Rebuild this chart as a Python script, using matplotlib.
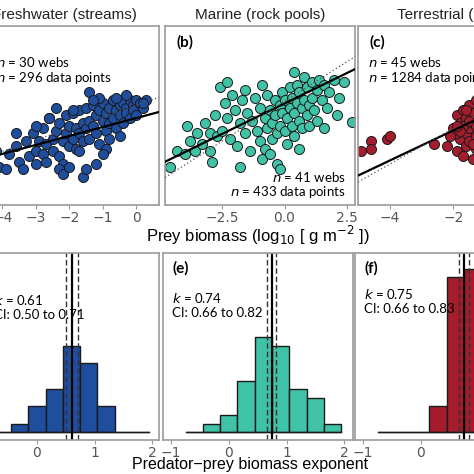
import matplotlib
matplotlib.use("Agg")
import matplotlib.pyplot as plt

# ── data ─────────────────────────────────────────────────────────
titles = ["Freshwater (streams)", "Marine (rock pools)", "Terrestrial (soils)"]
colors = ["#1f4e9e", "#3fc2a6", "#a51d2d"]

fresh_pts = [(-4.4, -3.3), (-4.3, -3.9), (-4.2, -2.9), (-4.1, -3.5), (-3.9, -3.6), (-3.8, -3.0),
             (-3.6, -2.7), (-3.5, -3.3), (-3.4, -3.6), (-3.3, -2.5), (-3.2, -3.1), (-3.1, -2.2),
             (-3.0, -2.9), (-3.0, -3.4), (-2.9, -2.5), (-2.8, -2.0), (-2.8, -3.0), (-2.7, -2.6),
             (-2.6, -1.6), (-2.5, -2.4), (-2.5, -2.9), (-2.4, -2.1), (-2.3, -1.8), (-2.3, -3.1),
             (-2.2, -2.5), (-2.2, -3.4), (-2.1, -1.5), (-2.1, -2.2), (-2.0, -2.7), (-2.0, -1.9),
             (-1.9, -2.4), (-1.9, -1.4), (-1.8, -2.0), (-1.8, -2.8), (-1.7, -1.3), (-1.7, -2.2),
             (-1.6, -1.8), (-1.6, -2.5), (-1.5, -1.2), (-1.5, -2.0), (-1.4, -1.7), (-1.4, -2.4),
             (-1.3, -1.1), (-1.3, -1.9), (-1.2, -1.5), (-1.2, -2.2), (-1.1, -1.3), (-1.1, -2.6),
             (-1.0, -1.0), (-1.0, -1.7), (-0.9, -1.4), (-0.9, -2.1), (-0.8, -1.2), (-0.8, -1.8),
             (-0.7, -0.9), (-0.7, -1.6), (-0.6, -1.3), (-0.6, -2.0), (-0.5, -1.1), (-0.5, -1.5),
             (-0.4, -1.0), (-0.4, -1.8), (-0.3, -1.2), (-0.3, -1.4), (-0.2, -0.9), (-0.2, -1.6),
             (-0.1, -1.1), (-0.1, -1.3), (0.0, -0.9), (0.0, -1.5), (0.1, -1.0), (0.2, -1.2),
             (0.3, -0.9), (-2.3, -3.6), (-2.2, -3.8), (-2.0, -3.5), (-1.6, -3.9), (-1.5, -3.6),
             (-1.2, -3.4), (-3.0, -1.9), (-2.6, -1.6), (-1.9, -1.3), (-0.9, -2.8), (-0.6, -0.8),
             (-0.3, -0.7), (0.2, -1.0), (-1.4, -0.6), (-2.4, -1.2), (-1.1, -0.8), (-0.8, -2.4),
             (-1.7, -2.9), (-2.7, -3.3), (-3.6, -2.2), (-0.5, -2.3), (-1.0, -3.0), (-1.3, -0.9)]

marine_pts = [(-4.6, -3.5), (-4.3, -2.9), (-4.0, -3.0), (-3.8, -2.5), (-3.6, -2.9), (-3.5, -2.2),
              (-3.3, -2.6), (-3.2, -1.8), (-3.0, -2.2), (-3.0, -2.9), (-2.8, -1.5), (-2.7, -2.3),
              (-2.6, -0.4), (-2.5, -2.1), (-2.4, -1.0), (-2.3, -1.6), (-2.2, -2.4), (-2.1, -0.7),
              (-2.0, -1.3), (-1.9, -2.7), (-1.8, -1.8), (-1.7, -0.9), (-1.6, -2.2), (-1.5, -1.4),
              (-1.4, -2.9), (-1.3, -1.7), (-1.2, -0.8), (-1.1, -2.1), (-1.0, -1.2), (-1.0, -2.5),
              (-0.9, -3.2), (-0.8, -1.6), (-0.8, -2.8), (-0.7, -0.7), (-0.7, -2.0), (-0.6, -1.3),
              (-0.6, -3.0), (-0.5, -1.8), (-0.5, -2.4), (-0.4, -0.9), (-0.4, -1.5), (-0.3, -2.2),
              (-0.3, -3.4), (-0.2, -1.1), (-0.2, -1.9), (-0.1, -0.6), (-0.1, -1.4), (0.0, -2.1),
              (0.0, -0.9), (0.1, -1.6), (0.1, -2.6), (0.2, -0.4), (0.2, -1.2), (0.3, -1.9),
              (0.3, -0.8), (0.4, -1.4), (0.4, -2.3), (0.5, -0.3), (0.5, -1.0), (0.6, -1.7),
              (0.6, -0.6), (0.7, -1.2), (0.7, -2.0), (0.8, 0.0), (0.8, -0.9), (0.9, -1.5),
              (0.9, -0.4), (1.0, -1.1), (1.0, -1.9), (1.1, -0.2), (1.1, -0.8), (1.2, -1.3),
              (1.3, -0.5), (1.3, -1.7), (1.4, -0.1), (1.5, -0.9), (1.6, -0.3), (1.7, -1.2),
              (1.8, -0.6), (2.0, -0.1), (2.1, -1.5), (2.2, -0.8), (2.4, -0.2), (2.7, -1.75),
              (-1.6, -0.5), (-0.9, -0.3), (0.4, 0.2), (-2.9, -3.3), (-1.8, -3.5), (-0.2, -3.6),
              (0.6, -2.8), (1.6, -2.0), (-3.9, -1.9), (-2.3, -0.2)]

terr_pts = [(-4.9, -2.9), (-4.6, -2.5), (-4.6, -2.8), (-4.1, -2.4), (-4.0, -2.3), (-2.6, -2.6),
            (-2.2, -2.7), (-2.0, -2.0), (-1.9, -2.9), (-1.9, -1.5), (-1.8, -2.4), (-1.8, -1.8),
            (-1.7, -3.1), (-1.7, -1.3), (-1.6, -2.2), (-1.6, -2.7), (-1.6, -1.6), (-1.5, -1.1),
            (-1.5, -2.0), (-1.5, -2.5), (-1.4, -1.4), (-1.4, -3.2), (-1.4, -1.8), (-1.3, -2.3),
            (-1.3, -0.9), (-1.3, -2.8), (-1.2, -1.6), (-1.2, -2.1), (-1.2, -1.2), (-1.1, -2.6),
            (-1.1, -1.9), (-1.1, -0.8), (-1.0, -1.5), (-1.0, -2.3), (-1.0, -3.3), (-0.9, -1.1),
            (-0.9, -1.8), (-0.9, -2.7), (-0.8, -1.4), (-0.8, -2.1), (-0.8, -0.7), (-0.7, -1.7),
            (-0.7, -2.5), (-0.7, -1.0), (-0.6, -1.3), (-0.6, -2.0), (-0.6, -2.9), (-0.5, -0.9),
            (-0.5, -1.6), (-0.5, -2.3), (-0.4, -1.2), (-0.4, -1.9), (-0.3, -0.8), (-0.3, -2.6),
            (-0.3, -1.5), (-0.2, -1.1), (-0.2, -2.1), (-0.1, -1.4), (-0.1, -0.7), (0.0, -1.8),
            (-1.9, -2.2), (-1.7, -1.9), (-1.5, -1.7), (-1.3, -1.9), (-1.1, -1.4), (-0.9, -2.3),
            (-0.7, -1.3), (-0.5, -2.0), (-0.3, -1.1), (-1.4, -2.6), (-1.2, -2.9), (-0.8, -3.0),
            (-2.1, -2.3), (-1.8, -2.1), (-1.6, -1.3), (-1.2, -2.5), (-1.0, -1.9), (-0.6, -1.6),
            (-0.4, -2.2), (-0.2, -1.7), (-1.9, -1.9), (-0.9, -1.5)]

scatter_pts = [fresh_pts, marine_pts, terr_pts]
fit_lines = [(-1.6, 0.35), (-1.03, 0.475), (-0.9, 0.59)]      # (intercept, slope)
dot_lines = [(-1.1, 0.45), (-0.95, 0.62), (-0.6, 0.70)]
scatter_xlim = [(-5.0, 0.68), (-4.8, 2.83), (-5.0, 0.97)]
scatter_xticks = [[-4, -3, -2, -1, 0], [-2.5, 0.0, 2.5], [-4, -2, 0]]
scatter_labels = [["−4", "−3", "−2", "−1", "0"], ["−2.5", "0.0", "2.5"], ["−4", "−2", "0"]]
n_webs = [30, 41, 45]
n_points = [296, 433, 1284]

bin_edges = [-0.75, -0.45, -0.15, 0.15, 0.45, 0.75, 1.05, 1.35, 1.65, 1.95]
fresh_counts = [0, 1, 3, 5, 10, 8, 3, 0, 0]
marine_counts = [0, 1, 2, 6, 11, 10, 5, 4, 1]
terr_counts = [0, 0, 0, 3, 18, 19, 10, 4, 1]
hist_counts = [fresh_counts, marine_counts, terr_counts]
k_est = [0.61, 0.74, 0.75]
ci_lo = [0.50, 0.66, 0.66]
ci_hi = [0.71, 0.82, 0.83]
hist_xlim = [(-1.18, 2.12), (-1.14, 2.15), (-1.14, 2.15)]

# ── layout (pixel-based, panels run off the canvas like the cropped source) ──
W = 474.0
top_left = [-31, 165, 358]
hist_left = [-31, 163, 355]
pw = 190

fig = plt.figure(figsize=(4.74, 4.74), dpi=100)
grey = "#9a9a9a"
tick_col = "#555555"


def style(ax):
    for s in ax.spines.values():
        s.set_color(grey)
        s.set_linewidth(1.2)
    ax.tick_params(axis="x", colors=grey, labelcolor=tick_col, labelsize=10,
                   length=3, pad=1)
    ax.set_yticks([])


for i in range(3):
    ax = fig.add_axes([top_left[i] / W, 1 - 205 / W, pw / W, 179 / W])
    xs = [p[0] for p in scatter_pts[i]]
    ys = [p[1] for p in scatter_pts[i]]
    ax.scatter(xs, ys, s=52, color=colors[i], edgecolor="#1a1a1a", linewidth=0.7, zorder=2)
    x0, x1 = scatter_xlim[i]
    b0, b1 = fit_lines[i]
    ax.plot([x0, x1], [b0 + b1 * x0, b0 + b1 * x1], color="black", lw=1.6, zorder=3)
    d0, d1 = dot_lines[i]
    ax.plot([x0, x1], [d0 + d1 * x0, d0 + d1 * x1], color="#555555", lw=0.9, ls=(0, (1, 2)), zorder=3)
    ax.set_xlim(x0, x1)
    ax.set_ylim(-5, 2)
    ax.set_xticks(scatter_xticks[i])
    ax.set_xticklabels(scatter_labels[i])
    style(ax)
    ax.set_title(titles[i], fontsize=11, color="#222222", pad=5, family="Liberation Sans")
    ax.text(0.06, 0.91, "(" + "abc"[i] + ")", transform=ax.transAxes, fontsize=11,
            fontweight="bold", family="Lato", va="center")
    lines = [f"$n$ = {n_webs[i]} webs", f"$n$ = {n_points[i]} data points"]
    if i == 1:
        ax.text(0.95, 0.155, lines[0], transform=ax.transAxes, ha="right", va="center", fontsize=9.5, family="Lato")
        ax.text(0.95, 0.075, lines[1], transform=ax.transAxes, ha="right", va="center", fontsize=9.5, family="Lato")
    else:
        tx = 0.14 if i == 0 else 0.05
        ax.text(tx, 0.80, lines[0], transform=ax.transAxes, va="center", fontsize=9.5, family="Lato")
        ax.text(tx, 0.71, lines[1], transform=ax.transAxes, va="center", fontsize=9.5, family="Lato")

fig.text(258 / W, 1 - 235 / W, r"Prey biomass (log$_{10}$ [ g m$^{-2}$ ])", ha="center",
         va="center", fontsize=12, family="Liberation Sans")

for i in range(3):
    ax = fig.add_axes([hist_left[i] / W, 1 - 440 / W, pw / W, 187 / W])
    ax.hist(bin_edges[:-1], bins=bin_edges, weights=hist_counts[i], color=colors[i],
            edgecolor="#1a1a1a", linewidth=1.0)
    ax.plot([bin_edges[0], bin_edges[-1]], [0, 0], color="#1a1a1a", lw=1.0)
    ax.axvline(k_est[i], color="black", lw=1.6)
    ax.axvline(ci_lo[i], color="#333333", lw=1.0, ls=(0, (4, 2)))
    ax.axvline(ci_hi[i], color="#333333", lw=1.0, ls=(0, (4, 2)))
    ax.set_xlim(*hist_xlim[i])
    ax.set_ylim(-0.9, 20.8)
    ax.set_xticks([-1, 0, 1, 2])
    ax.set_xticklabels(["−1", "0", "1", "2"])
    style(ax)
    tx = 0.13 if i == 0 else 0.05
    ax.text(0.04 if i == 0 else 0.05, 0.92, "(" + "def"[i] + ")", transform=ax.transAxes,
            fontsize=11, fontweight="bold", family="Lato", va="center")
    ty = [0.75, 0.76, 0.78][i]
    ax.text(tx, ty, f"$k$ = {k_est[i]:.2f}", transform=ax.transAxes, va="center", fontsize=9.5, family="Lato")
    ax.text(tx, ty - 0.08, f"CI: {ci_lo[i]:.2f} to {ci_hi[i]:.2f}", transform=ax.transAxes,
            va="center", fontsize=9.5, family="Lato")

fig.text(250 / W, 1 - 465 / W, "Predator−prey biomass exponent", ha="center", va="center",
         fontsize=11.5, family="Liberation Sans")

fig.savefig("out.png", dpi=100)
